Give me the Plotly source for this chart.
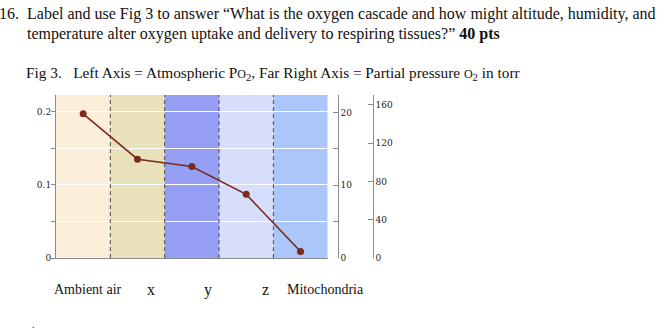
import plotly.graph_objects as go

# ---- data ----
stages = [0, 1, 2, 3, 4]
po2_atm = [0.197, 0.135, 0.125, 0.087, 0.009]
categories = ["Ambient air", "x", "y", "z", "Mitochondria"]
left_ticks = [0, 0.1, 0.2]
left_labels = ["0", "0.1", "0.2"]
mid_ticks = [0, 10, 20]
mid_labels = ["0", "10", "20"]
right_ticks = [0, 40, 80, 120, 160]
right_labels = ["0", "40", "80", "120", "160"]
band_colors = ["#fcefd9", "#e9e1b9", "#979ff5", "#d7defc", "#aac6fb"]

W, H = 664, 335
Y_TOP = 0.2226

fig = go.Figure()
fig.add_trace(go.Scatter(
    x=stages, y=po2_atm, mode="lines+markers",
    line=dict(color="#7a2a1e", width=1.6),
    marker=dict(color="#7a2a1e", size=7),
    showlegend=False, hoverinfo="skip"))

shapes = []
for i, c in enumerate(band_colors):
    shapes.append(dict(type="rect", xref="x", yref="y", x0=stages[i] - 0.5, x1=stages[i] + 0.5,
                       y0=0, y1=Y_TOP, fillcolor=c, line=dict(width=0), layer="below"))
for i in range(len(stages) - 1):
    xb = stages[i] + 0.5
    shapes.append(dict(type="line", xref="x", yref="y", x0=xb, x1=xb, y0=0, y1=Y_TOP,
                       line=dict(color="#4a4a4a", width=1, dash="4px,3px"), layer="between"))

tick_font = dict(family="DejaVu Serif", size=9, color="#222222")
axis_col = "#8a8a8a"

serif = "Liberation Serif"
ann = []
ann.append(dict(text="16.", xref="paper", yref="paper", x=21 / W, y=1 - 14 / H,
                xanchor="right", yanchor="middle", showarrow=False,
                font=dict(family=serif, size=16, color="#111111")))
for txt, yy in [("Label and use Fig 3 to answer “What is the oxygen cascade and how might altitude, humidity, and", 14),
                ("temperature alter oxygen uptake and delivery to respiring tissues?” <b>40 pts</b>", 35)]:
    ann.append(dict(text=txt, xref="paper", yref="paper", x=25 / W, y=1 - yy / H,
                    xanchor="left", yanchor="middle", showarrow=False,
                    font=dict(family=serif, size=16, color="#111111")))
small = "<span style='font-size:12px'>O</span><sub>2</sub>"
ann.append(dict(text="Fig 3.\u00a0\u00a0\u00a0Left Axis = Atmospheric P" + small +
                ", Far Right Axis = Partial pressure " + small + " in torr",
                xref="paper", yref="paper", x=24 / W, y=1 - 75 / H, xanchor="left", yanchor="middle",
                showarrow=False, font=dict(family=serif, size=15.3, color="#111111")))
label_px = [88, 151, 208, 265, 325]
label_sz = [14, 16, 16, 16, 14]
for t, px, sz in zip(categories, label_px, label_sz):
    ann.append(dict(text=t, xref="paper", yref="paper", x=px / W, y=1 - 294 / H,
                    xanchor="center", yanchor="middle", showarrow=False,
                    font=dict(family=serif, size=sz, color="#111111")))
ann.append(dict(text=".", xref="paper", yref="paper", x=33 / W, y=1 - 329 / H,
                xanchor="center", yanchor="middle", showarrow=False,
                font=dict(family=serif, size=10, color="#111111")))

ydom = [1 - 262 / H, 1 - 96.5 / H]
fig.update_layout(
    width=W, height=H, margin=dict(l=0, r=0, t=0, b=0),
    paper_bgcolor="white", plot_bgcolor="rgba(0,0,0,0)",
    shapes=shapes, annotations=ann,
    xaxis=dict(domain=[56 / W, 327.7 / W], range=[-0.5, 4.5], showgrid=False, zeroline=False,
               showticklabels=False, ticks="", showline=True, linecolor=axis_col, linewidth=1),
    yaxis=dict(domain=ydom, range=[0, Y_TOP], tickvals=left_ticks, ticktext=left_labels,
               showgrid=True, gridcolor="white", gridwidth=1, zeroline=False,
               ticks="outside", ticklen=4, tickcolor=axis_col, showline=True, linecolor=axis_col,
               linewidth=1, tickfont=tick_font, ticklabelstandoff=-2,
               minor=dict(tick0=0, dtick=0.05, ticks="outside", ticklen=4, tickcolor=axis_col,
                          showgrid=True, gridcolor="white", gridwidth=1)),
    yaxis2=dict(range=[0, 22.4], overlaying="y", anchor="free", position=337.7 / W, side="right",
                tickvals=mid_ticks, ticktext=mid_labels, showgrid=False, zeroline=False,
                ticks="inside", ticklen=5, tickcolor=axis_col, showline=True, linecolor=axis_col,
                linewidth=1, tickfont=tick_font,
                minor=dict(tick0=0, dtick=5, ticks="inside", ticklen=5, tickcolor=axis_col, showgrid=False)),
    yaxis3=dict(range=[0, 170], overlaying="y", anchor="free", position=372.7 / W, side="right",
                tickvals=right_ticks, ticktext=right_labels, showgrid=False, zeroline=False,
                ticks="inside", ticklen=5, tickcolor=axis_col, showline=True, linecolor=axis_col,
                linewidth=1, tickfont=tick_font),
)
fig.add_trace(go.Scatter(x=[None], y=[None], yaxis="y2", showlegend=False))
fig.add_trace(go.Scatter(x=[None], y=[None], yaxis="y3", showlegend=False))

fig.write_html("out.html")
